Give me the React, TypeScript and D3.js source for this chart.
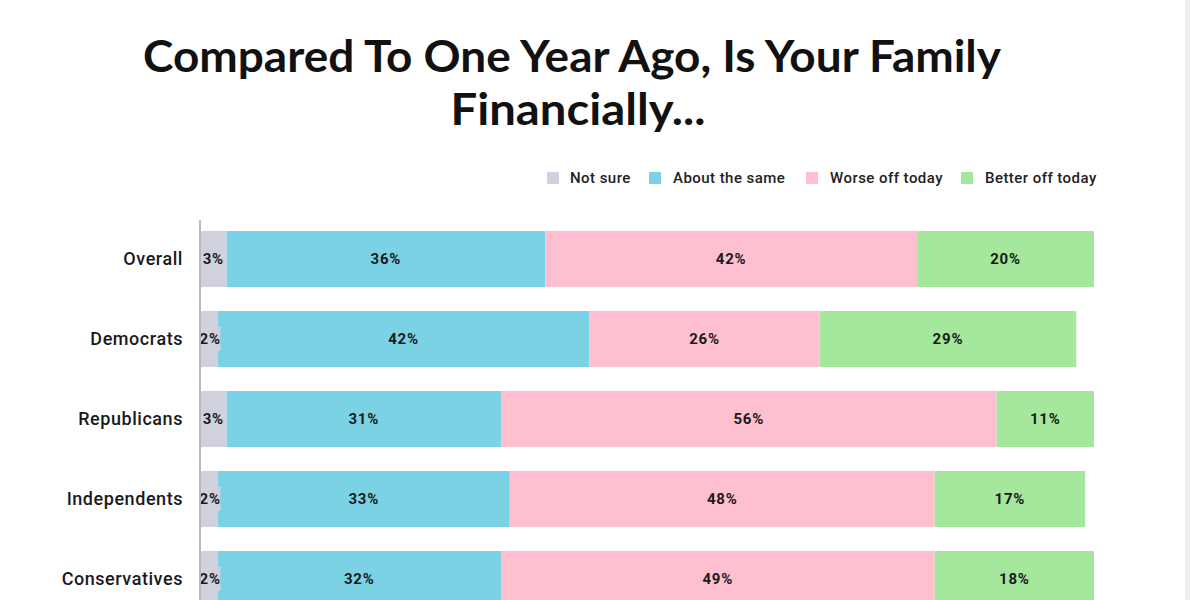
import React from "react";
import * as d3 from "d3";

const categories = ["Overall", "Democrats", "Republicans", "Independents", "Conservatives"];
const seriesNames = ["Not sure", "About the same", "Worse off today", "Better off today"];
const notSure = [3, 2, 3, 2, 2];
const aboutSame = [36, 42, 31, 33, 32];
const worseOff = [42, 26, 56, 48, 49];
const betterOff = [20, 29, 11, 17, 18];
const colors = ["#d1d1dd", "#7bd2e5", "#fec0d0", "#a5e79d"];
const titleLines = ["Compared To One Year Ago, Is Your Family", "Financially..."];

const W = 1190;
const H = 600;

export default function App() {
  const x = d3.scaleLinear().domain([0, 101]).range([200, 1094]);
  const y = d3.scaleBand<string>().domain(categories).range([219, 619]).paddingInner(0.3).paddingOuter(0.15);
  const rows = categories.map((c, i) => ({
    cat: c,
    Ns: notSure[i],
    As: aboutSame[i],
    Wo: worseOff[i],
    Bo: betterOff[i],
  }));
  const keys = ["Ns", "As", "Wo", "Bo"];
  const stacked = d3.stack<any>().keys(keys)(rows);
  const titleFont = "Lato, 'Open Sans', sans-serif";
  const font = "Roboto, 'Open Sans', sans-serif";

  const legendItems = [
    { x: 547, tx: 570 },
    { x: 649, tx: 673 },
    { x: 806, tx: 830 },
    { x: 961, tx: 985 },
  ];

  return (
    <svg width={W} height={H} style={{ position: "absolute", left: 0, top: 0, background: "#fff" }}>
      <rect x={0} y={0} width={W} height={H} fill="#fff" />
      <rect x={1185} y={0} width={5} height={H} fill="#efefef" />
      <text x={572} y={72} textAnchor="middle" fontFamily={titleFont} fontWeight={700} fontSize={44} fill="#111" textLength={858} lengthAdjust="spacingAndGlyphs">
        {titleLines[0]}
      </text>
      <text x={578} y={125} textAnchor="middle" fontFamily={titleFont} fontWeight={700} fontSize={44} fill="#111" textLength={255} lengthAdjust="spacingAndGlyphs">
        {titleLines[1]}
      </text>
      {seriesNames.map((s, i) => (
        <g key={s}>
          <rect x={legendItems[i].x} y={172} width={12} height={12} fill={colors[i]} />
          <text x={legendItems[i].tx} y={183} fontFamily={font} fontWeight={500} fontSize={15} letterSpacing={0.45} fill="#222">
            {s}
          </text>
        </g>
      ))}
      {stacked.map((layer, li) =>
        layer.map((d: any, di: number) => {
          const cat = categories[di];
          const x0 = x(d[0]);
          const x1 = x(d[1]);
          const yy = y(cat)!;
          return (
            <rect key={li + "-" + di} x={x0} y={yy} width={x1 - x0} height={y.bandwidth()} fill={colors[li]} />
          );
        })
      )}
      {stacked.map((layer, li) =>
        layer.map((d: any, di: number) => {
          const cat = categories[di];
          const x0 = x(d[0]);
          const x1 = x(d[1]);
          const yy = y(cat)! + y.bandwidth() / 2;
          const val = d[1] - d[0];
          const label = val + "%";
          const tw = label.length * 8.2;
          let cx = (x0 + x1) / 2;
          if (cx - tw / 2 - 2 < x0) cx = x0 + tw / 2 + 2;
          return (
            <g key={"l" + li + "-" + di}>
              <rect x={cx - tw / 2 - 2} y={yy - 12} width={tw + 4} height={24} fill={colors[li]} />
              <text x={cx} y={yy + 5} textAnchor="middle" fontFamily={font} fontWeight={700} fontSize={15} letterSpacing={0.8} fill="#1a1a1a">
                {label}
              </text>
            </g>
          );
        })
      )}
      <line x1={200} x2={200} y1={220} y2={600} stroke="#b8b8c0" strokeWidth={2} />
      {categories.map((c) => (
        <text key={c} x={183} y={y(c)! + y.bandwidth() / 2 + 6} textAnchor="end" fontFamily={font} fontWeight={500} fontSize={18} letterSpacing={0.55} fill="#1a1a1a">
          {c}
        </text>
      ))}
    </svg>
  );
}
